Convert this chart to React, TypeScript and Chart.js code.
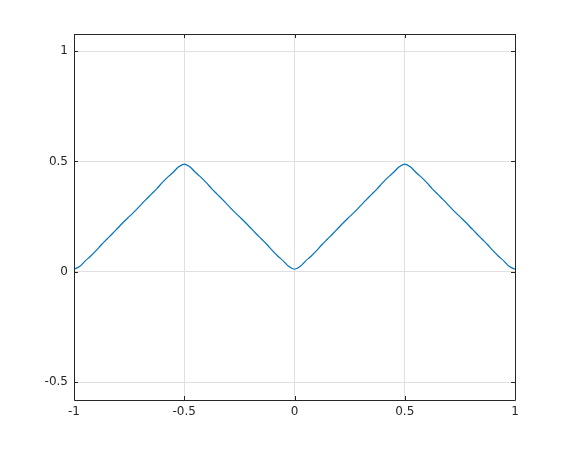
import React, { useEffect, useRef } from "react";
import { Chart, registerables } from "chart.js";

Chart.register(...registerables);

const xValues = [
  -1, -0.975, -0.95, -0.925, -0.9, -0.875, -0.85, -0.825, -0.8, -0.775, -0.75, -0.725, -0.7, -0.675, -0.65, -0.625, -0.6, -0.575, -0.55, -0.525, -0.5,
  -0.475, -0.45, -0.425, -0.4, -0.375, -0.35, -0.325, -0.3, -0.275, -0.25, -0.225, -0.2, -0.175, -0.15, -0.125, -0.1, -0.075, -0.05, -0.025, 0,
  0.025, 0.05, 0.075, 0.1, 0.125, 0.15, 0.175, 0.2, 0.225, 0.25, 0.275, 0.3, 0.325, 0.35, 0.375, 0.4, 0.425, 0.45, 0.475, 0.5,
  0.525, 0.55, 0.575, 0.6, 0.625, 0.65, 0.675, 0.7, 0.725, 0.75, 0.775, 0.8, 0.825, 0.85, 0.875, 0.9, 0.925, 0.95, 0.975, 1,
];

const yValues = [
  0.012, 0.024, 0.049, 0.071, 0.096, 0.124, 0.149, 0.174, 0.2, 0.226, 0.25, 0.274, 0.3, 0.326, 0.351, 0.376, 0.404, 0.429, 0.451, 0.476, 0.488,
  0.476, 0.451, 0.429, 0.404, 0.376, 0.351, 0.326, 0.3, 0.274, 0.25, 0.226, 0.2, 0.174, 0.149, 0.124, 0.096, 0.071, 0.049, 0.024, 0.012,
  0.024, 0.049, 0.071, 0.096, 0.124, 0.149, 0.174, 0.2, 0.226, 0.25, 0.274, 0.3, 0.326, 0.351, 0.376, 0.404, 0.429, 0.451, 0.476, 0.488,
  0.476, 0.451, 0.429, 0.404, 0.376, 0.351, 0.326, 0.3, 0.274, 0.25, 0.226, 0.2, 0.174, 0.149, 0.124, 0.096, 0.071, 0.049, 0.024, 0.012,
];

const xTicks = [-1, -0.5, 0, 0.5, 1];
const yTicks = [-0.5, 0, 0.5, 1];
const xMin = -1;
const xMax = 1;
const yMin = -0.58;
const yMax = 1.077;

const boxPlugin = {
  id: "boxPlugin",
  afterDraw(chart: any) {
    const { ctx, chartArea } = chart;
    const { left, right, top, bottom } = chartArea;
    const xs = chart.scales.x;
    const ys = chart.scales.y;
    ctx.save();
    ctx.strokeStyle = "#262626";
    ctx.lineWidth = 1;
    ctx.beginPath();
    ctx.rect(Math.round(left) + 0.5, Math.round(top) + 0.5, Math.round(right - left), Math.round(bottom - top));
    ctx.stroke();
    const tl = 4;
    ctx.beginPath();
    xTicks.forEach((v) => {
      const px = Math.round(xs.getPixelForValue(v)) + 0.5;
      ctx.moveTo(px, bottom);
      ctx.lineTo(px, bottom - tl);
      ctx.moveTo(px, top);
      ctx.lineTo(px, top + tl);
    });
    yTicks.forEach((v) => {
      const py = Math.round(ys.getPixelForValue(v)) + 0.5;
      ctx.moveTo(left, py);
      ctx.lineTo(left + tl, py);
      ctx.moveTo(right, py);
      ctx.lineTo(right - tl, py);
    });
    ctx.stroke();
    ctx.restore();
  },
};

export default function App() {
  const ref = useRef<HTMLCanvasElement | null>(null);
  useEffect(() => {
    if (!ref.current) return;
    const data = xValues.map((x, i) => ({ x, y: yValues[i] }));
    const chart = new Chart(ref.current, {
      type: "line",
      data: {
        datasets: [
          {
            data,
            borderColor: "#0072BD",
            borderWidth: 1.2,
            pointRadius: 0,
            tension: 0.35,
            fill: false,
          },
        ],
      },
      options: {
        animation: false,
        responsive: false,
        devicePixelRatio: 1,
        layout: { padding: { left: 0, top: 34, right: 55, bottom: 0 } },
        plugins: { legend: { display: false }, tooltip: { enabled: false } },
        scales: {
          x: {
            type: "linear",
            min: xMin,
            max: xMax,
            afterBuildTicks: (axis: any) => {
              axis.ticks = xTicks.map((v) => ({ value: v }));
            },
            afterFit: (axis: any) => {
              axis.height = 50;
            },
            grid: { color: "#e0e0e0", drawTicks: false, lineWidth: 1 },
            border: { display: false },
            ticks: {
              color: "#262626",
              font: { family: "DejaVu Sans", size: 12 },
              padding: 5,
              maxRotation: 0,
              callback: (v: any) => String(v),
            },
          },
          y: {
            type: "linear",
            min: yMin,
            max: yMax,
            afterBuildTicks: (axis: any) => {
              axis.ticks = yTicks.map((v) => ({ value: v }));
            },
            afterFit: (axis: any) => {
              axis.width = 74;
            },
            grid: { color: "#e0e0e0", drawTicks: false, lineWidth: 1 },
            border: { display: false },
            ticks: {
              color: "#262626",
              font: { family: "DejaVu Sans", size: 12 },
              padding: 6,
              callback: (v: any) => String(v),
            },
          },
        },
      },
      plugins: [boxPlugin],
    });
    return () => chart.destroy();
  }, []);
  return (
    <div style={{ position: "fixed", left: 0, top: 0, width: 570, height: 450, background: "#fff" }}>
      <canvas ref={ref} width={570} height={450} />
    </div>
  );
}
